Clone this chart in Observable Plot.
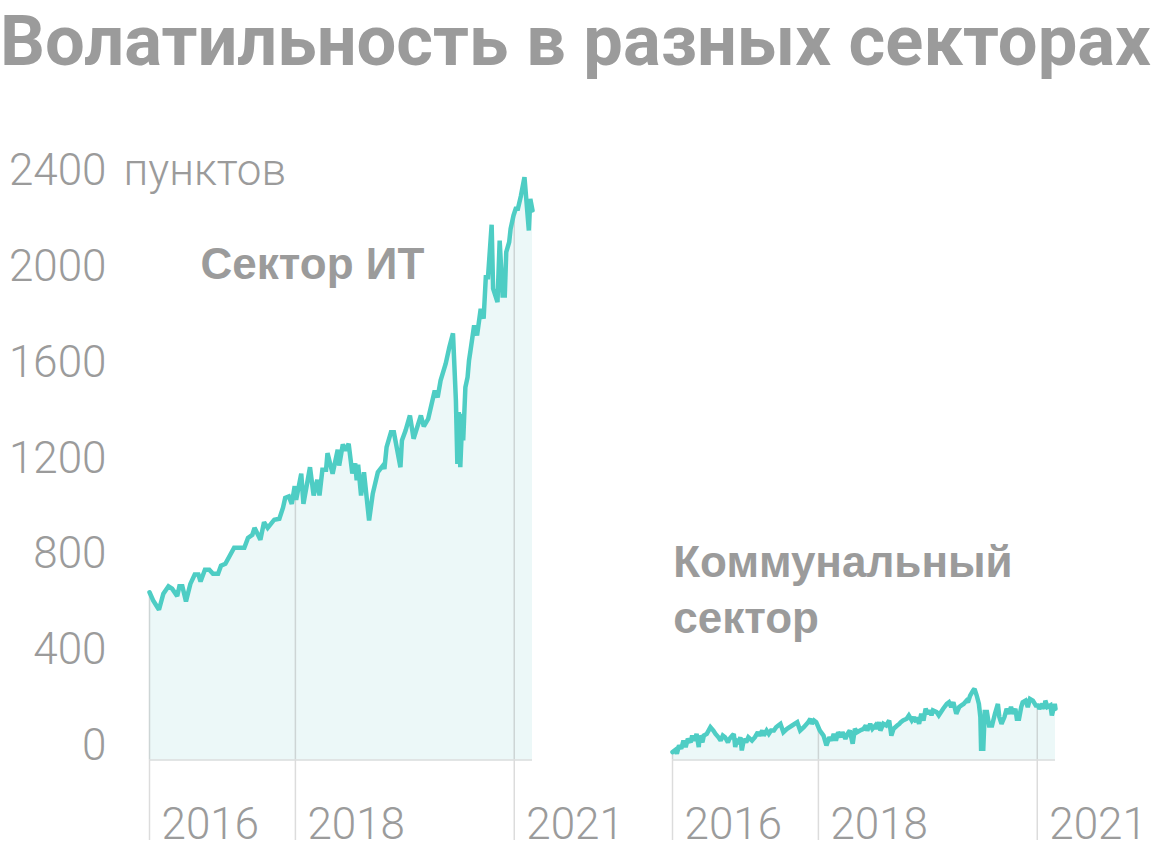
<!DOCTYPE html>
<html>
<head>
<meta charset="utf-8">
<script src="https://cdn.jsdelivr.net/npm/d3@7"></script>
<script src="https://cdn.jsdelivr.net/npm/@observablehq/plot@0.6"></script>
<style>
  html, body { margin: 0; padding: 0; background: #fff; }
  #wrap { width: 1160px; height: 856px; overflow: hidden; }
  h1 { margin: 0; font: 700 70.5px/82px Roboto, sans-serif; color: #9b9b9b; white-space: nowrap; height: 82px; letter-spacing: 0; }
</style>
</head>
<body>
<div id="wrap">
  <h1>Волатильность в разных секторах</h1>
  <div id="chart"></div>
</div>
<script>
// --- Data ---
const sectors = ["it", "util"];

const itYears = [2016.00,2016.05,2016.13,2016.19,2016.26,2016.31,2016.38,2016.41,2016.45,2016.50,2016.56,2016.62,2016.67,2016.70,2016.76,2016.82,2016.87,2016.94,2016.98,2017.04,2017.16,2017.30,2017.35,2017.41,2017.44,2017.52,2017.57,2017.62,2017.71,2017.78,2017.83,2017.86,2017.91,2017.95,2017.99,2018.01,2018.08,2018.11,2018.20,2018.25,2018.30,2018.33,2018.37,2018.42,2018.44,2018.51,2018.58,2018.60,2018.65,2018.69,2018.73,2018.78,2018.82,2018.84,2018.86,2018.90,2018.94,2019.01,2019.06,2019.13,2019.20,2019.22,2019.25,2019.31,2019.35,2019.44,2019.46,2019.51,2019.57,2019.62,2019.72,2019.76,2019.82,2019.91,2019.95,2019.99,2020.06,2020.11,2020.16,2020.20,2020.22,2020.24,2020.26,2020.29,2020.30,2020.33,2020.36,2020.38,2020.40,2020.45,2020.49,2020.54,2020.58,2020.61,2020.64,2020.69,2020.71,2020.77,2020.80,2020.84,2020.87,2020.89,2020.93,2020.95,2020.99,2021.02,2021.05,2021.09,2021.14,2021.20,2021.22,2021.25];
const itValues = [700,666,627,694,725,715,684,725,725,662,735,774,774,745,794,794,777,777,811,819,886,886,927,940,969,919,993,969,1003,1007,1053,1094,1100,1069,1143,1086,1195,1069,1222,1104,1170,1104,1211,1211,1281,1195,1295,1229,1317,1292,1320,1196,1238,1167,1233,1104,1201,1000,1111,1201,1229,1215,1306,1368,1368,1222,1334,1375,1438,1341,1438,1392,1424,1542,1514,1584,1654,1723,1781,1501,1236,1452,1222,1445,1334,1556,1598,1668,1709,1814,1772,1883,1842,2015,2015,2234,1967,1911,2168,1939,1939,2120,2161,2217,2273,2301,2301,2353,2433,2210,2342,2294];

const utilYears = [2016.00,2016.04,2016.06,2016.09,2016.12,2016.15,2016.18,2016.21,2016.25,2016.27,2016.30,2016.33,2016.36,2016.37,2016.41,2016.43,2016.47,2016.52,2016.56,2016.59,2016.63,2016.66,2016.69,2016.72,2016.76,2016.78,2016.82,2016.84,2016.86,2016.88,2016.91,2016.93,2016.95,2016.98,2017.01,2017.04,2017.09,2017.13,2017.17,2017.19,2017.23,2017.25,2017.29,2017.32,2017.35,2017.39,2017.42,2017.45,2017.48,2017.52,2017.57,2017.64,2017.71,2017.75,2017.80,2017.86,2017.89,2017.91,2017.94,2017.97,2018.02,2018.07,2018.11,2018.15,2018.18,2018.21,2018.24,2018.27,2018.31,2018.33,2018.37,2018.40,2018.43,2018.47,2018.50,2018.53,2018.57,2018.62,2018.65,2018.67,2018.71,2018.74,2018.78,2018.80,2018.83,2018.85,2018.89,2018.93,2018.97,2019.00,2019.03,2019.08,2019.11,2019.13,2019.16,2019.21,2019.24,2019.28,2019.31,2019.34,2019.35,2019.38,2019.41,2019.44,2019.47,2019.50,2019.53,2019.55,2019.57,2019.62,2019.65,2019.71,2019.76,2019.79,2019.82,2019.85,2019.89,2019.93,2019.96,2019.99,2020.03,2020.05,2020.08,2020.12,2020.14,2020.17,2020.20,2020.22,2020.23,2020.26,2020.28,2020.31,2020.34,2020.38,2020.42,2020.46,2020.48,2020.51,2020.55,2020.58,2020.61,2020.64,2020.67,2020.70,2020.72,2020.75,2020.78,2020.80,2020.84,2020.87,2020.90,2020.94,2020.98,2021.01,2021.03,2021.07,2021.10,2021.11,2021.14,2021.18,2021.20,2021.24,2021.25];
const utilValues = [33,42,26,61,47,81,54,88,74,102,81,109,54,102,74,102,109,137,123,109,95,81,102,95,74,88,102,109,54,81,74,95,40,88,74,95,81,95,116,102,123,102,123,109,123,123,137,144,151,116,130,144,158,123,137,158,172,151,165,158,123,102,61,95,81,109,81,116,95,116,88,109,123,68,130,116,123,130,144,123,151,130,144,130,158,123,151,144,165,102,130,144,151,158,165,172,186,165,179,158,179,151,193,165,214,193,207,186,207,200,186,214,234,241,221,241,193,221,228,234,248,241,269,290,297,269,234,179,47,47,200,200,144,144,193,234,179,151,179,214,193,221,193,214,172,172,221,241,248,221,255,248,228,228,214,234,214,248,221,228,186,234,214];

const tickYears = [2016, 2018, 2021];
const yTicks = [0, 400, 800, 1200, 1600, 2000, 2400];
const yUnit = "пунктов";

const annotSector = ["it", "util", "util"];
const annotYear = [2016.70, 2016.01, 2016.01];
const annotValue = [2006, 762, 532];
const annotText = ["Сектор ИТ", "Коммунальный", "сектор"];

// --- Tables built from the arrays ---
const rows = [
  ...itYears.map((y, i) => ({sector: sectors[0], year: y, value: itValues[i]})),
  ...utilYears.map((y, i) => ({sector: sectors[1], year: y, value: utilValues[i]}))
];
function valueAt(sector, yr) {
  const pts = rows.filter(r => r.sector === sector);
  let best = pts[0];
  for (const p of pts) if (Math.abs(p.year - yr) < Math.abs(best.year - yr)) best = p;
  return best.value;
}
const tickRows = sectors.flatMap(s => tickYears.map(t => ({sector: s, year: t, value: valueAt(s, t)})));
const annots = annotText.map((t, i) => ({sector: annotSector[i], year: annotYear[i], value: annotValue[i], text: t}));

const gray = "#9b9b9b";
const teal = "#4ecdc4";

const chart = Plot.plot({
  width: 1160,
  height: 774,
  marginLeft: 148,
  marginRight: 104,
  marginTop: 102.5,
  marginBottom: 96.5,
  style: {fontFamily: "Roboto, sans-serif", background: "transparent", overflow: "visible"},
  fx: {domain: sectors, paddingInner: 0.267, paddingOuter: 0, axis: null, label: null},
  x: {domain: [2016, 2021.25], label: null},
  y: {domain: [0, 2400], label: null},
  marks: [
    Plot.areaY(rows, {fx: "sector", x: "year", y: "value", fill: "#ecf8f8", curve: "linear"}),
    Plot.ruleX(tickRows, {fx: "sector", x: "year", y1: 0, y2: "value", stroke: "#cdd5d5", strokeWidth: 1.5}),
    Plot.ruleY([0], {stroke: "#d9dcdc", strokeWidth: 1.5}),
    Plot.lineY(rows, {fx: "sector", x: "year", y: "value", stroke: teal, strokeWidth: 4.5, strokeLinejoin: "miter", strokeMiterlimit: 2}),
    // tick lines below the baseline
    Plot.axisX({
      ticks: tickYears, tickFormat: () => "", tickSize: 80.5,
      stroke: "#dcdcdc", strokeWidth: 1.5, label: null
    }),
    // year labels
    Plot.axisX({
      ticks: tickYears, tickFormat: d => String(d), tickSize: 0, tickPadding: 78.5,
      stroke: "none", fill: gray, textAnchor: "start", dx: 12,
      lineAnchor: "bottom", fontSize: 44, fontWeight: 300, label: null
    }),
    Plot.axisY({
      ticks: yTicks, tickFormat: d => String(d), tickSize: 0, tickPadding: 43,
      fill: gray, lineAnchor: "bottom", fontSize: 44, fontWeight: 300, label: null
    }),
    Plot.text([{sector: sectors[0], year: 2016, value: 2400}], {
      fx: "sector", x: "year", y: "value", text: () => yUnit, dx: -26,
      textAnchor: "start", lineAnchor: "bottom", fill: gray, fontSize: 44, fontWeight: 300
    }),
    Plot.text(annots, {
      fx: "sector", x: "year", y: "value", text: "text", textAnchor: "start", lineAnchor: "bottom",
      fill: gray, fontSize: 44, fontWeight: 700, fontFamily: "Liberation Sans, Arial, sans-serif"
    })
  ]
});
document.getElementById("chart").appendChild(chart);
</script>
</body>
</html>
